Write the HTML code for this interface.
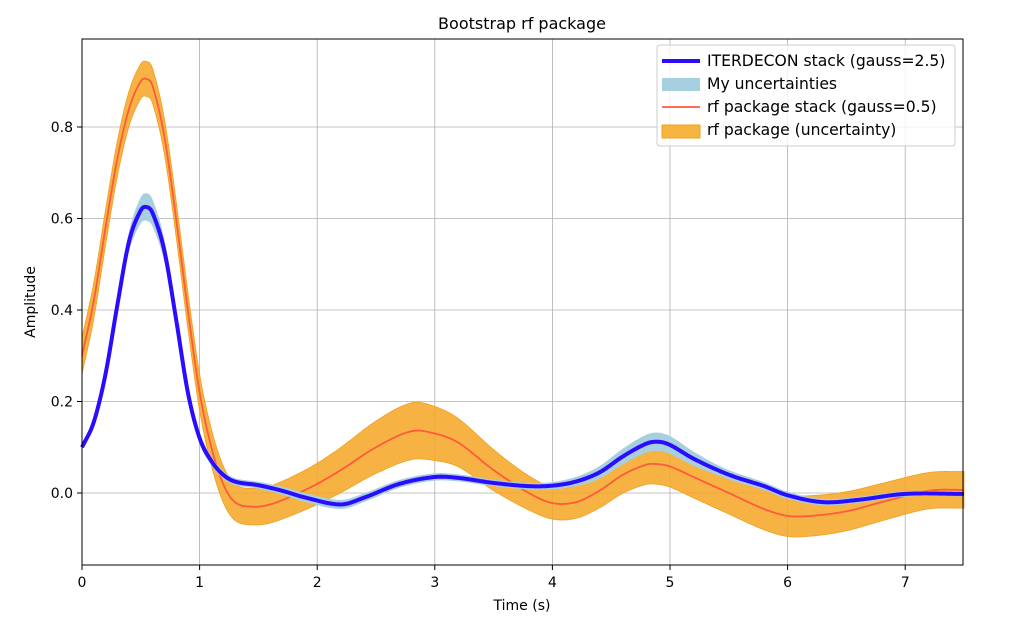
<!DOCTYPE html>
<html><head><meta charset="utf-8"><style>
html,body{margin:0;padding:0;background:#fff;}
svg text{font-family:"DejaVu Sans","Liberation Sans",sans-serif;}
</style></head><body>
<svg id="s" width="1024" height="624" xmlns="http://www.w3.org/2000/svg">
<rect width="1024" height="624" fill="#fff"/>
<g id="grid" stroke="#b0b0b0" stroke-width="0.8"></g>
<g id="plot"></g>
<rect x="82" y="39" width="881" height="526" fill="none" stroke="#000" stroke-width="1"/>
<g id="ticks" font-size="14" fill="#000"></g>
<text x="522" y="29" font-size="16" text-anchor="middle">Bootstrap rf package</text>
<text x="522" y="610" font-size="14" text-anchor="middle">Time (s)</text>
<text x="35" y="302" font-size="14" text-anchor="middle" transform="rotate(-90 35 302)">Amplitude</text>
<g>
<rect x="657" y="45" width="298" height="101" fill="#fff" fill-opacity="0.8" stroke="#ccc" rx="3"/>
<line x1="662" y1="61" x2="700" y2="61" stroke="#2a0cff" stroke-width="4"/>
<rect x="662" y="78" width="38" height="13" fill="#a6cfe0"/>
<line x1="662" y1="107" x2="700" y2="107" stroke="#ff5a3c" stroke-width="1.8"/>
<rect x="662" y="125" width="38" height="13" fill="#f5b540" stroke="#f0a020"/>
<g font-size="15.6"><text x="707" y="66">ITERDECON stack (gauss=2.5)</text>
<text x="707" y="89">My uncertainties</text>
<text x="707" y="112">rf package stack (gauss=0.5)</text>
<text x="707" y="135">rf package (uncertainty)</text></g>
</g>
</svg>
<script>
const X=t=>82+117.6*t, Y=a=>493-457.5*a;
const NS="http://www.w3.org/2000/svg";
function el(p,tag,at){const e=document.createElementNS(NS,tag);for(const k in at)e.setAttribute(k,at[k]);p.appendChild(e);return e;}
const grid=document.getElementById('grid'),ticks=document.getElementById('ticks'),plot=document.getElementById('plot');
for(let i=0;i<=7;i++){el(grid,'line',{x1:X(i),x2:X(i),y1:39,y2:565});el(ticks,'line',{x1:X(i),x2:X(i),y1:565,y2:570,stroke:'#000'});const t=el(ticks,'text',{x:X(i),y:587,'text-anchor':'middle'});t.textContent=i;}
for(let i=0;i<=4;i++){const a=i*0.2;el(grid,'line',{x1:82,x2:963,y1:Y(a),y2:Y(a)});el(ticks,'line',{x1:77,x2:82,y1:Y(a),y2:Y(a),stroke:'#000'});const t=el(ticks,'text',{x:73,y:Y(a)+5,'text-anchor':'end'});t.textContent=a.toFixed(1);}
function cr(pts){return t=>{let i=0;while(i<pts.length-2&&pts[i+1][0]<t)i++;const p1=pts[i],p2=pts[i+1],p0=pts[Math.max(i-1,0)],p3=pts[Math.min(i+2,pts.length-1)];const u=(t-p1[0])/(p2[0]-p1[0]);const m1=(p2[1]-p0[1])/(p2[0]-p0[0]||1)*(p2[0]-p1[0]),m2=(p3[1]-p1[1])/(p3[0]-p1[0]||1)*(p2[0]-p1[0]);const h00=2*u*u*u-3*u*u+1,h10=u*u*u-2*u*u+u,h01=-2*u*u*u+3*u*u,h11=u*u*u-u*u;return h00*p1[1]+h10*m1+h01*p2[1]+h11*m2;};}
const blue=cr([[0,0.1],[0.1,0.155],[0.2,0.26],[0.3,0.41],[0.4,0.55],[0.5,0.618],[0.55,0.625],[0.6,0.612],[0.7,0.53],[0.8,0.38],[0.9,0.22],[1.0,0.12],[1.1,0.07],[1.2,0.04],[1.3,0.025],[1.5,0.017],[1.7,0.005],[1.9,-0.01],[2.2,-0.025],[2.4,-0.01],[2.7,0.02],[3.0,0.035],[3.2,0.033],[3.5,0.022],[3.8,0.015],[4.0,0.016],[4.2,0.025],[4.4,0.045],[4.6,0.08],[4.8,0.108],[4.9,0.112],[5.0,0.105],[5.2,0.075],[5.5,0.04],[5.8,0.015],[6.0,-0.005],[6.3,-0.02],[6.6,-0.015],[7.0,-0.002],[7.5,-0.002]]);
const red=cr([[0,0.3],[0.1,0.42],[0.2,0.58],[0.3,0.73],[0.4,0.84],[0.5,0.9],[0.55,0.905],[0.6,0.89],[0.7,0.78],[0.8,0.6],[0.9,0.4],[1.0,0.22],[1.1,0.1],[1.2,0.02],[1.3,-0.02],[1.45,-0.03],[1.6,-0.025],[1.8,-0.005],[2.0,0.02],[2.2,0.05],[2.5,0.1],[2.8,0.135],[3.0,0.13],[3.2,0.11],[3.5,0.05],[3.8,0.0],[4.0,-0.022],[4.2,-0.02],[4.4,0.005],[4.6,0.04],[4.8,0.062],[4.9,0.063],[5.0,0.058],[5.2,0.035],[5.5,0.0],[5.8,-0.035],[6.0,-0.05],[6.2,-0.05],[6.5,-0.04],[6.8,-0.02],[7.2,0.005],[7.5,0.007]]);
const rw=cr([[0,0.04],[0.5,0.038],[1,0.04],[1.5,0.04],[2,0.045],[2.8,0.062],[3.3,0.05],[4,0.035],[5,0.045],[6,0.045],[7,0.04],[7.5,0.04]]);
const bw=cr([[0,0.005],[0.3,0.015],[0.55,0.03],[0.8,0.02],[1.2,0.008],[2,0.01],[3,0.008],[4,0.008],[4.9,0.02],[5.5,0.01],[7.5,0.005]]);
const N=600,ts=[];for(let i=0;i<=N;i++)ts.push(7.5*i/N);
function line(f){return ts.map((t,i)=>(i?'L':'M')+X(t).toFixed(2)+','+Y(f(t)).toFixed(2)).join('');}
function band(f,w){let d=ts.map((t,i)=>(i?'L':'M')+X(t).toFixed(2)+','+Y(f(t)+w(t)).toFixed(2)).join('');d+=ts.slice().reverse().map(t=>'L'+X(t).toFixed(2)+','+Y(f(t)-w(t)).toFixed(2)).join('');return d+'Z';}
el(plot,'path',{d:band(red,rw),fill:'#f5a623','fill-opacity':0.85,stroke:'#f0a020','stroke-width':0.8});
el(plot,'path',{d:line(red),fill:'none',stroke:'#ff5a3c','stroke-width':1.8});
el(plot,'path',{d:band(blue,bw),fill:'#a6cfe0'});
el(plot,'path',{d:line(blue),fill:'none',stroke:'#2a0cff','stroke-width':4,'stroke-linejoin':'round'});
</script>
</body></html>
